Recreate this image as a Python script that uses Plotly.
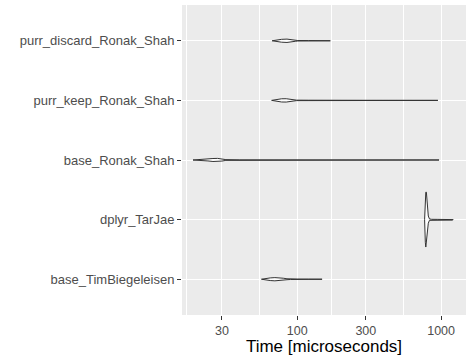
import plotly.graph_objects as go

# Categories (bottom to top)
categories = ["base_TimBiegeleisen", "dplyr_TarJae", "base_Ronak_Shah",
              "purr_keep_Ronak_Shah", "purr_discard_Ronak_Shah"]

# Violin profiles: time (microseconds) and density half-width (category units)
tim_time = [56.5, 60, 65, 70, 75, 80, 85, 90, 100, 120, 149]
tim_hw = [0, 0.012, 0.022, 0.027, 0.025, 0.017, 0.008, 0.004, 0.003, 0.002, 0]

dplyr_time = [768, 772, 777, 783, 790, 798, 806, 815, 830, 860, 950, 1100, 1195, 1203, 1212]
dplyr_hw = [0, 0.2, 0.38, 0.46, 0.46, 0.36, 0.18, 0.06, 0.012, 0.005, 0.004, 0.004, 0.008, 0.008, 0]

brs_time = [18.9, 20, 22, 24, 26, 28, 30, 32, 40, 100, 400, 968]
brs_hw = [0, 0.006, 0.01, 0.016, 0.025, 0.027, 0.018, 0.006, 0.003, 0.002, 0.002, 0]

keep_time = [66.5, 72, 78, 84, 90, 95, 99, 120, 300, 950]
keep_hw = [0, 0.017, 0.027, 0.028, 0.021, 0.01, 0.004, 0.003, 0.002, 0]

discard_time = [67, 72, 78, 85, 92, 97, 101, 120, 150, 170]
discard_hw = [0, 0.013, 0.024, 0.028, 0.02, 0.009, 0.004, 0.003, 0.002, 0]

profiles = [(tim_time, tim_hw), (dplyr_time, dplyr_hw), (brs_time, brs_hw),
            (keep_time, keep_hw), (discard_time, discard_hw)]

x_ticks = [30, 100, 300, 1000]
x_tick_text = ["30", "100", "300", "1000"]
x_minor = [17.0, 54.77, 173.2, 547.7]

fig = go.Figure()
for i, (t, hw) in enumerate(profiles):
    pos = i + 1
    xs = list(t) + list(reversed(t))
    ys = [pos + h for h in hw] + [pos - h for h in reversed(hw)]
    fig.add_trace(go.Scatter(
        x=xs, y=ys, mode="lines", fill="toself", fillcolor="white",
        line=dict(color="#333333", width=1), showlegend=False,
        hoverinfo="skip"))

fig.update_layout(
    width=474, height=356,
    margin=dict(l=182, r=8, t=5, b=41),
    paper_bgcolor="white", plot_bgcolor="#EBEBEB",
    font=dict(family="Liberation Sans, Arial, sans-serif", color="#4D4D4D"),
    showlegend=False,
)
fig.update_xaxes(
    type="log", range=[1.20, 3.173],
    tickmode="array", tickvals=x_ticks, ticktext=x_tick_text,
    ticks="outside", ticklen=4, tickcolor="#333333", tickwidth=1,
    tickfont=dict(size=12.5, color="#4D4D4D"),
    showgrid=True, gridcolor="white", gridwidth=1.1,
    minor=dict(tickvals=x_minor, showgrid=True, gridcolor="white", gridwidth=0.55, ticks=""),
    zeroline=False, showline=False, automargin=False,
    title=dict(text="Time [microseconds]", font=dict(size=17, color="black"), standoff=0),
)
fig.update_yaxes(
    range=[0.4, 5.6], tickmode="array", tickvals=[1, 2, 3, 4, 5], ticktext=categories,
    ticks="outside", ticklen=4, tickcolor="#333333", tickwidth=1,
    tickfont=dict(size=13, color="#4D4D4D"),
    showgrid=True, gridcolor="white", gridwidth=1.1,
    zeroline=False, showline=False, automargin=False,
)

fig.write_html("out.html", config={"displayModeBar": False},
               post_script="document.body.style.margin='0px';document.body.style.overflow='hidden';")
